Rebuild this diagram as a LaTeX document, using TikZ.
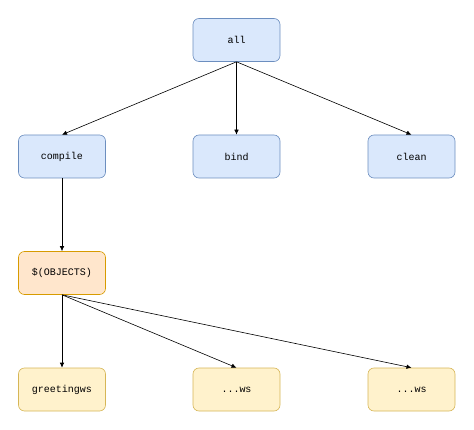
\documentclass[tikz,border=0pt]{standalone}
\usepackage{fontspec}
\setmonofont{Liberation Mono}
\usetikzlibrary{arrows.meta,positioning}
\definecolor{tblue}{HTML}{DAE8FC}
\definecolor{tblueline}{HTML}{6C8EBF}
\definecolor{torange}{HTML}{FFE6CC}
\definecolor{torangeline}{HTML}{D79B00}
\definecolor{tyellow}{HTML}{FFF2CC}
\definecolor{tyellowline}{HTML}{D6B656}

\begin{document}
\begin{tikzpicture}[x=1pt, y=1pt, font=\ttfamily\fontsize{10}{12}\selectfont]
\useasboundingbox (0,0) rectangle (474,-430);
\tikzset{target/.style={draw=tblueline, fill=tblue, rounded corners=6pt, minimum width=87pt, minimum height=43pt, line width=0.6pt}}
\node[target] (all) at (236.5,-40) {all};
\node[target] (compile) at (62,-156.5) {compile};
\node[target] (bind) at (236.5,-156.5) {bind};
\node[target] (clean) at (411.5,-156.5) {clean};
\node[target, draw=torangeline, fill=torange] (objects) at (62,-273) {\$(OBJECTS)};
\node[target, draw=tyellowline, fill=tyellow] (greet) at (62,-389.5) {greetingws};
\node[target, draw=tyellowline, fill=tyellow] (ws1) at (236.5,-389.5) {...ws};
\node[target, draw=tyellowline, fill=tyellow] (ws2) at (411.5,-389.5) {...ws};
\draw[-{Latex[length=5pt,width=4.5pt]}, line width=0.6pt] (all.south)--(compile.north);
\draw[-{Latex[length=5pt,width=4.5pt]}, line width=0.6pt] (all.south)--(bind.north);
\draw[-{Latex[length=5pt,width=4.5pt]}, line width=0.6pt] (all.south)--(clean.north);
\draw[-{Latex[length=5pt,width=4.5pt]}, line width=0.6pt] (compile.south)--(objects.north);
\draw[-{Latex[length=5pt,width=4.5pt]}, line width=0.6pt] (objects.south)--(greet.north);
\draw[-{Latex[length=5pt,width=4.5pt]}, line width=0.6pt] (objects.south)--(ws1.north);
\draw[-{Latex[length=5pt,width=4.5pt]}, line width=0.6pt] (objects.south)--(ws2.north);
\end{tikzpicture}
\end{document}
